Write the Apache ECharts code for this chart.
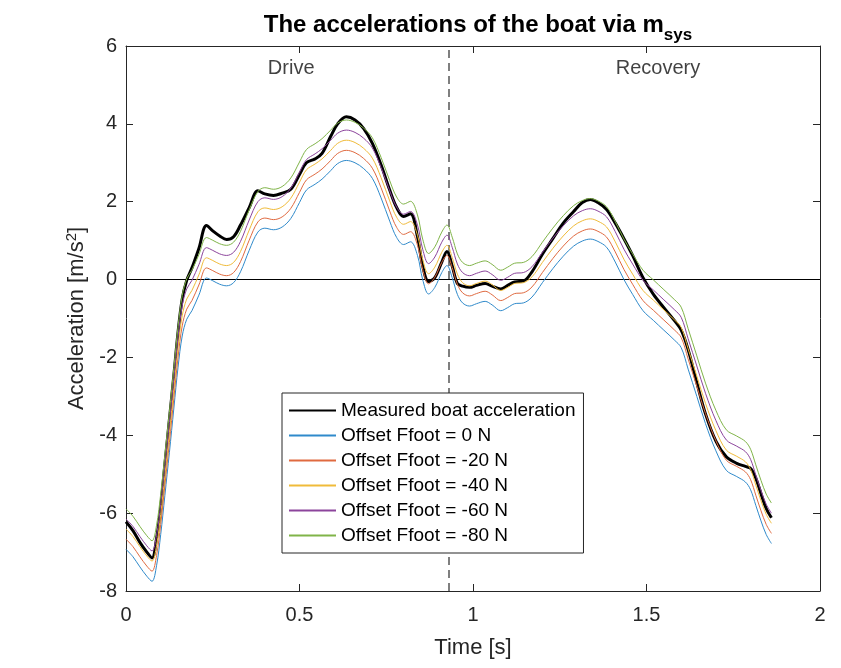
<!DOCTYPE html>
<html><head><meta charset="utf-8">
<script src="https://cdn.jsdelivr.net/npm/echarts@6/dist/echarts.min.js"></script>
<style>html,body{margin:0;padding:0;background:#fff}#c{width:841px;height:668px}</style>
</head><body><div id="c"></div>
<script>
const time = [0,0.02,0.04,0.06,0.075,0.088,0.1,0.112,0.125,0.138,0.15,0.162,0.175,0.19,0.21,0.232,0.25,0.27,0.29,0.31,0.33,0.355,0.38,0.4,0.425,0.45,0.475,0.5,0.52,0.545,0.565,0.59,0.61,0.635,0.66,0.685,0.71,0.735,0.76,0.78,0.8,0.82,0.84,0.855,0.872,0.89,0.91,0.925,0.94,0.955,0.97,0.99,1.01,1.035,1.055,1.08,1.1,1.12,1.145,1.17,1.2,1.23,1.26,1.29,1.315,1.338,1.36,1.385,1.41,1.435,1.46,1.49,1.52,1.55,1.58,1.6,1.62,1.645,1.67,1.7,1.73,1.76,1.785,1.8,1.815,1.83,1.845,1.86];

const measured = [-6.22,-6.45,-6.75,-7.0,-7.15,-6.65,-5.85,-4.75,-3.6,-2.45,-1.35,-0.5,-0.02,0.3,0.8,1.39,1.25,1.12,1.03,1.1,1.4,1.85,2.28,2.2,2.16,2.22,2.32,2.7,3.0,3.1,3.24,3.68,4.0,4.18,4.1,3.88,3.5,2.95,2.3,1.85,1.62,1.69,1.1,0.35,-0.05,0.05,0.45,0.72,0.35,-0.1,-0.17,-0.2,-0.15,-0.1,-0.17,-0.24,-0.15,-0.06,-0.04,0.2,0.65,1.05,1.45,1.75,1.98,2.06,1.98,1.8,1.45,1.05,0.62,0.05,-0.38,-0.72,-1.05,-1.3,-1.8,-2.65,-3.45,-4.15,-4.55,-4.72,-4.8,-4.85,-5.1,-5.5,-5.88,-6.12];

const offset0 = [-6.93,-7.12,-7.38,-7.62,-7.75,-7.35,-6.55,-5.55,-4.45,-3.3,-2.25,-1.45,-1.02,-0.8,-0.4,0.04,-0.03,-0.12,-0.16,-0.08,0.2,0.75,1.22,1.32,1.28,1.35,1.57,1.98,2.3,2.45,2.58,2.8,2.98,3.06,3.0,2.85,2.6,2.1,1.5,1.08,0.9,0.97,0.62,0.0,-0.37,-0.2,0.18,0.36,0.05,-0.38,-0.6,-0.68,-0.62,-0.56,-0.65,-0.8,-0.72,-0.62,-0.6,-0.45,-0.08,0.28,0.6,0.86,0.99,1.04,0.98,0.83,0.45,0.0,-0.38,-0.8,-1.05,-1.3,-1.55,-1.75,-2.3,-3.0,-3.7,-4.4,-4.9,-5.06,-5.2,-5.4,-5.8,-6.2,-6.55,-6.78];

const offset20 = [-6.67,-6.86,-7.12,-7.36,-7.49,-7.09,-6.29,-5.29,-4.19,-3.04,-1.99,-1.19,-0.76,-0.54,-0.14,0.30,0.23,0.14,0.10,0.18,0.46,1.01,1.48,1.58,1.54,1.61,1.83,2.24,2.56,2.71,2.84,3.06,3.24,3.32,3.26,3.11,2.86,2.36,1.76,1.34,1.16,1.23,0.88,0.26,-0.11,0.06,0.44,0.62,0.31,-0.12,-0.34,-0.42,-0.36,-0.30,-0.39,-0.54,-0.46,-0.36,-0.34,-0.19,0.18,0.54,0.86,1.12,1.25,1.30,1.24,1.09,0.71,0.26,-0.12,-0.54,-0.79,-1.04,-1.29,-1.49,-2.04,-2.74,-3.44,-4.14,-4.64,-4.80,-4.94,-5.14,-5.54,-5.94,-6.29,-6.52];

const offset40 = [-6.41,-6.60,-6.86,-7.10,-7.23,-6.83,-6.03,-5.03,-3.93,-2.78,-1.73,-0.93,-0.50,-0.28,0.12,0.56,0.49,0.40,0.36,0.44,0.72,1.27,1.74,1.84,1.80,1.87,2.09,2.50,2.82,2.97,3.10,3.32,3.50,3.58,3.52,3.37,3.12,2.62,2.02,1.60,1.42,1.49,1.14,0.52,0.15,0.32,0.70,0.88,0.57,0.14,-0.08,-0.16,-0.10,-0.04,-0.13,-0.28,-0.20,-0.10,-0.08,0.07,0.44,0.80,1.12,1.38,1.51,1.56,1.50,1.35,0.97,0.52,0.14,-0.28,-0.53,-0.78,-1.03,-1.23,-1.78,-2.48,-3.18,-3.88,-4.38,-4.54,-4.68,-4.88,-5.28,-5.68,-6.03,-6.26];

const offset60 = [-6.15,-6.34,-6.60,-6.84,-6.97,-6.57,-5.77,-4.77,-3.67,-2.52,-1.47,-0.67,-0.24,-0.02,0.38,0.82,0.75,0.66,0.62,0.70,0.98,1.53,2.00,2.10,2.06,2.13,2.35,2.76,3.08,3.23,3.36,3.58,3.76,3.84,3.78,3.63,3.38,2.88,2.28,1.86,1.68,1.75,1.40,0.78,0.41,0.58,0.96,1.14,0.83,0.40,0.18,0.10,0.16,0.22,0.13,-0.02,0.06,0.16,0.18,0.33,0.70,1.06,1.38,1.64,1.77,1.82,1.76,1.61,1.23,0.78,0.40,-0.02,-0.27,-0.52,-0.77,-0.97,-1.52,-2.22,-2.92,-3.62,-4.12,-4.28,-4.42,-4.62,-5.02,-5.42,-5.77,-6.00];

const offset80 = [-5.89,-6.08,-6.34,-6.58,-6.71,-6.31,-5.51,-4.51,-3.41,-2.26,-1.21,-0.41,0.02,0.24,0.64,1.08,1.01,0.92,0.88,0.96,1.24,1.79,2.26,2.36,2.32,2.39,2.61,3.02,3.34,3.49,3.62,3.84,4.02,4.10,4.04,3.89,3.64,3.14,2.54,2.12,1.94,2.01,1.66,1.04,0.67,0.84,1.22,1.40,1.09,0.66,0.44,0.36,0.42,0.48,0.39,0.24,0.32,0.42,0.44,0.59,0.96,1.32,1.64,1.90,2.03,2.08,2.02,1.87,1.49,1.04,0.66,0.24,-0.01,-0.26,-0.51,-0.71,-1.26,-1.96,-2.66,-3.36,-3.86,-4.02,-4.16,-4.36,-4.76,-5.16,-5.51,-5.74];

const seriesNames = ['Measured boat acceleration','Offset Ffoot = 0 N','Offset Ffoot = -20 N','Offset Ffoot = -40 N','Offset Ffoot = -60 N','Offset Ffoot = -80 N'];
const seriesColors = ['#000000','#2f8acb','#e06a40','#f0bb3a','#8c449c','#80b448'];
const xRange = [0, 2], xStep = 0.5;
const yRange = [-8, 6], yStep = 2;
const phaseNames = ['Drive', 'Recovery'];
const phaseTimes = [0.476, 1.533];
const phaseLevel = 5.42;
const dividerTime = 0.931;

const F = '"Liberation Sans", Arial, Helvetica, sans-serif';
const AX = '#262626';
const chart = echarts.init(document.getElementById('c'), null, {renderer: 'canvas'});
const allData = [measured, offset0, offset20, offset40, offset60, offset80];

function xAxisDef(pos, main) {
  return {
    type: 'value', position: pos, min: xRange[0], max: xRange[1], interval: xStep,
    axisLine: {show: true, onZero: false, lineStyle: {color: AX, width: 1}},
    axisTick: {show: true, inside: true, length: 7, lineStyle: {color: AX, width: 1}},
    axisLabel: {show: main, color: AX, fontSize: 20, fontFamily: F, margin: 14},
    splitLine: {show: false},
    name: main ? 'Time [s]' : '', nameLocation: 'middle', nameGap: 46,
    nameTextStyle: {fontSize: 22, fontFamily: F, color: AX}
  };
}
function yAxisDef(pos, main) {
  return {
    type: 'value', position: pos, min: yRange[0], max: yRange[1], interval: yStep,
    axisLine: {show: true, onZero: false, lineStyle: {color: AX, width: 1}},
    axisTick: {show: true, inside: true, length: 7, lineStyle: {color: AX, width: 1}},
    axisLabel: {show: main, color: AX, fontSize: 20, fontFamily: F, margin: 9},
    splitLine: {show: false},
    name: main ? '{a|Acceleration [m/s}{b|2}{a|]}' : '', nameLocation: 'middle', nameGap: 30,
    nameRotate: 90,
    nameTextStyle: {fontSize: 22, fontFamily: F, color: AX, rich: {
      a: {fontSize: 22, fontFamily: F, color: AX},
      b: {fontSize: 15, fontFamily: F, color: AX, padding: [0, 0, 11, 0]}
    }}
  };
}

const series = allData.map((arr, i) => ({
  name: seriesNames[i], type: 'line', xAxisIndex: 0, yAxisIndex: 0,
  data: time.map((t, j) => [t, arr[j]]),
  showSymbol: false, symbol: 'none', smooth: 0.35,
  lineStyle: {color: seriesColors[i], width: i === 0 ? 3 : 1},
  itemStyle: {color: seriesColors[i]},
  z: 3 + i, silent: true
}));
series[0].markLine = {
  silent: true, symbol: 'none', label: {show: false}, animation: false, z: 2,
  data: [
    {yAxis: 0, lineStyle: {color: '#000', width: 1, type: 'solid'}},
    {xAxis: dividerTime, lineStyle: {color: '#555', width: 1.5, type: [8, 5]}}
  ]
};
series.push({
  name: 'phases', type: 'scatter', xAxisIndex: 0, yAxisIndex: 0, symbolSize: 0,
  data: phaseNames.map((n, i) => ({value: [phaseTimes[i], phaseLevel], name: n})),
  label: {show: true, position: 'inside', formatter: p => p.name, fontSize: 20, fontFamily: F, color: '#111'},
  silent: true
});

chart.setOption({
  animation: false,
  backgroundColor: '#fff',
  title: {
    text: '{a|The accelerations of the boat via m}{s|sys}',
    left: 473, top: 1, textAlign: 'center',
    textStyle: {rich: {
      a: {fontSize: 24, fontWeight: 'bold', fontFamily: F, color: '#000'},
      s: {fontSize: 17, fontWeight: 'bold', fontFamily: F, color: '#000', padding: [21, 0, 0, 0]}
    }}
  },
  grid: {left: 126, top: 46, right: 21, bottom: 77, containLabel: false, outerBoundsMode: 'none'},
  xAxis: [xAxisDef('bottom', true), xAxisDef('top', false)],
  yAxis: [yAxisDef('left', true), yAxisDef('right', false)],
  legend: {
    data: seriesNames, orient: 'vertical', left: 282, top: 393, z: 20,
    itemWidth: 47, itemHeight: 1, itemGap: 0, padding: [5, 8, 5, 6],
    itemStyle: {opacity: 0},
    borderColor: AX, borderWidth: 1, backgroundColor: '#fff', selectedMode: false,
    textStyle: {fontSize: 19, fontFamily: F, color: '#000', lineHeight: 25}
  },
  series: series
});
</script></body></html>
